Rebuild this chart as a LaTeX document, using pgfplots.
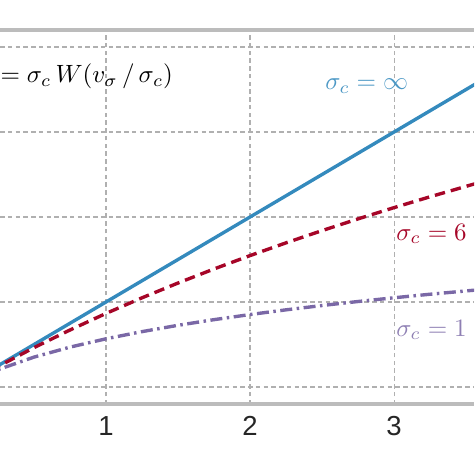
\documentclass[border=0pt]{standalone}
\usepackage[no-math]{fontspec}
\usepackage{pgfplots}
\pgfplotsset{compat=1.18}
\newfontfamily\tickfont{Liberation Sans}
\definecolor{cblue}{HTML}{348ABD}
\definecolor{cred}{HTML}{A60628}
\definecolor{cpurple}{HTML}{7A68A6}
\definecolor{cgrid}{HTML}{B0B0B0}
\definecolor{caxis}{HTML}{BCBCBC}
\begin{document}
\begin{tikzpicture}
\begin{axis}[
  scale only axis,
  width=189.6pt, height=149.6pt,
  xmin=0.264, xmax=3.555, ymin=-0.2, ymax=4.2,
  separate axis lines,
  x axis line style={draw=caxis, line width=1.3pt},
  y axis line style={draw=none},
  xtick={1,2,3}, xticklabels={1,2,3},
  ytick={0,1,2,3,4}, yticklabels={},
  major tick length=0pt,
  xmajorgrids, ymajorgrids,
  grid style={draw=cgrid, line width=0.45pt, dash pattern=on 1.8pt off 1.3pt},
  xticklabel style={font=\tickfont\fontsize{11}{13}\selectfont, text=black!85, yshift=-1.5pt},
  clip=true,
]
\addplot[cblue, line width=1.35pt] coordinates {(0,0) (3.6,3.6)};
\addplot[cred, line width=1.35pt, dash pattern=on 4.2pt off 2.4pt] coordinates {
(0,0) (0.25,0.2402) (0.5,0.4628) (0.75,0.6706) (1,0.8656) (1.25,1.0493) (1.5,1.2233)
(1.75,1.3886) (2,1.5458) (2.25,1.6960) (2.5,1.8398) (2.75,1.9778) (3,2.1104)
(3.25,2.2381) (3.5,2.3608) (3.6,2.4095)};
\addplot[cpurple, line width=1.35pt, dash pattern=on 4.8pt off 1.8pt on 1pt off 1.8pt] coordinates {
(0,0) (0.25,0.2039) (0.5,0.3517) (0.75,0.4691) (1,0.5671) (1.25,0.6515) (1.5,0.7259)
(1.75,0.7923) (2,0.8526) (2.25,0.9078) (2.5,0.9586) (2.75,1.0058) (3,1.0499)
(3.25,1.0913) (3.5,1.1303) (3.6,1.1454)};
\node[text=cblue!88, font=\fontsize{10.3}{12}\selectfont] at (axis cs:2.81,3.54) {$\sigma_c=\infty$};
\node[text=cred, font=\fontsize{10.3}{12}\selectfont] at (axis cs:3.26,1.80) {$\sigma_c=6$};
\node[text=cpurple!85, font=\fontsize{10.3}{12}\selectfont] at (axis cs:3.26,0.67) {$\sigma_c=1$};
\node[anchor=west, inner xsep=0pt, font=\fontsize{10.3}{12}\selectfont] at (rel axis cs:0,0.876) {$=\sigma_c\,W(v_\sigma\,/\,\sigma_c)$};
\coordinate (bl) at (rel axis cs:0,0);
\coordinate (tr) at (rel axis cs:1,1);
\end{axis}
\pgfresetboundingbox
\path ([yshift=-28pt]bl) rectangle ([yshift=12pt]tr);
\end{tikzpicture}
\end{document}
